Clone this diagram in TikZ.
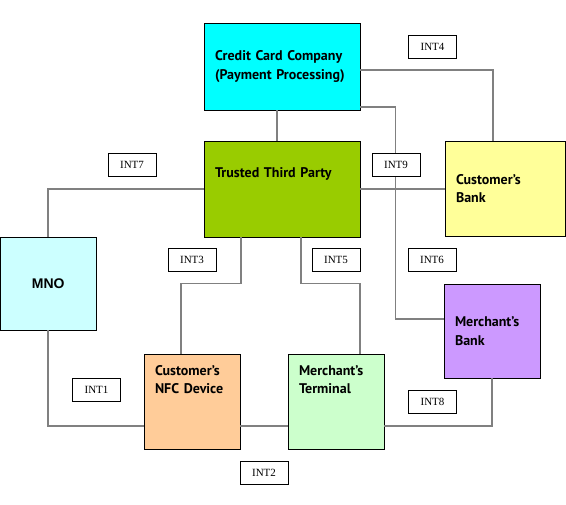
\documentclass[tikz,border=0pt]{standalone}
\usepackage{fontspec}
\setmainfont{Liberation Serif}
\newfontfamily\boxfont{PT Sans}
\newfontfamily\mnofont{Liberation Sans}
\definecolor{cccfill}{HTML}{00FFFF}
\definecolor{ttpfill}{HTML}{99CC00}
\definecolor{cbankfill}{HTML}{FFFF99}
\definecolor{mnofill}{HTML}{CCFFFF}
\definecolor{nfcfill}{HTML}{FFCC99}
\definecolor{termfill}{HTML}{CCFFCC}
\definecolor{mbankfill}{HTML}{CC99FF}
\definecolor{linkgray}{HTML}{808080}
\tikzset{
        entity/.style={rectangle, draw=black, line width=0.8pt, inner xsep=11pt, inner ysep=0pt, align=left,
          font=\boxfont\bfseries\fontsize{14}{18.5}\selectfont},
        intbox/.style={rectangle, draw=black, fill=white, line width=0.7pt, minimum width=48pt, minimum height=23pt,
          inner sep=0pt, font=\fontsize{11}{12}\selectfont},
        link/.style={draw=linkgray, line width=1.6pt}
          }
\begin{document}
\begin{tikzpicture}[x=1pt, y=-1pt]
        \useasboundingbox (0,0) rectangle (566,505);
        % parties
        \node[entity, fill=cccfill, text width=134pt, minimum height=87pt] (ccc) at (282,66.5) {Credit Card Company\\(Payment Processing)};
        \node[entity, fill=ttpfill, text width=134pt, text height=37pt, text depth=59pt] (ttp) at (282,189) {Trusted Third Party};
        \node[entity, fill=cbankfill, text width=98pt, minimum height=95pt] (cbank) at (505,188.5) {Customer’s\\Bank};
        \node[entity, fill=mnofill, text width=73.5pt, minimum height=93pt, align=center,
          font=\mnofont\bfseries\fontsize{14}{16}\selectfont] (mno) at (48.25,283.5) {MNO};
        \node[entity, fill=nfcfill, text width=74pt, text height=21.5pt, text depth=73.5pt] (nfc) at (192,401.5) {Customer’s\\NFC Device};
        \node[entity, fill=termfill, text width=74pt, text height=21.5pt, text depth=73.5pt] (term) at (336,401.5) {Merchant’s\\Terminal};
        \node[entity, fill=mbankfill, text width=74pt, minimum height=94pt] (mbank) at (492,331) {Merchant’s\\Bank};
        % interfaces
        \draw[link] ([xshift=-5pt]ccc.south) -- ([xshift=-5pt]ttp.north);
        \draw[link] ([yshift=-3.5pt]ccc.east) -| ([xshift=-12pt]cbank.north);
        \draw[link] ([yshift=-40.5pt]ccc.east) -| ([xshift=-48pt, yshift=12pt]mbank.west) -- ([yshift=12pt]mbank.west);
        \draw[link] (ttp.east) -- (ttp.east -| cbank.west);
        \draw[link] (ttp.west) -| (mno.north);
        \draw[link] ([xshift=-41pt]ttp.south) -- ++(0,46) -| ([xshift=-11pt]nfc.north);
        \draw[link] ([xshift=19pt]ttp.south) -- ++(0,46) -| ([xshift=24pt]term.north);
        \draw[link] (mno.south) |- ([yshift=-24.5pt]nfc.west);
        \draw[link] ([yshift=-24.5pt]nfc.east) -- ([yshift=-24.5pt]term.west);
        \draw[link] ([yshift=-24.5pt]term.east) -| (mbank.south);
        % labels
        \node[intbox] (int1) at (96.5,390) {INT1};
        \node[intbox] (int2) at (264,472.5) {INT2};
        \node[intbox] (int3) at (192,259.5) {INT3};
        \node[intbox] (int4) at (432.5,47) {INT4};
        \node[intbox] (int5) at (336,259.5) {INT5};
        \node[intbox] (int6) at (432,259.5) {INT6};
        \node[intbox] (int7) at (132,165) {INT7};
        \node[intbox] (int8) at (432.5,402) {INT8};
        \node[intbox] (int9) at (396,165) {INT9};
\end{tikzpicture}
\end{document}
